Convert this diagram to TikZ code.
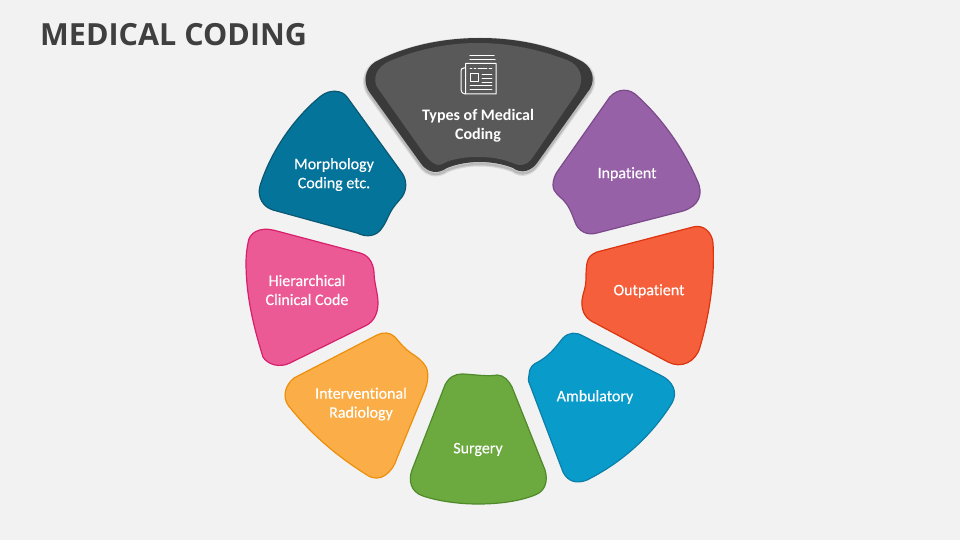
\documentclass[tikz,border=0pt]{standalone}
\usepackage{fontspec}
\setmainfont[Ligatures=CommonOff]{Carlito}
\newfontfamily\titlefont{Open Sans}
\newfontfamily\lblfont[Ligatures=CommonOff,FakeBold=0.25]{Carlito}
\definecolor{bgc}{HTML}{F2F2F2}
\definecolor{titlec}{HTML}{3F3F3F}
\definecolor{darkc}{HTML}{3A3A3A}
\definecolor{midc}{HTML}{595959}
\definecolor{morc}{HTML}{05749B}\definecolor{morl}{HTML}{0A5872}
\definecolor{hierc}{HTML}{EC5A96}\definecolor{hierl}{HTML}{D81F6B}
\definecolor{intc}{HTML}{FBAE47}\definecolor{intl}{HTML}{EE8F0B}
\definecolor{surc}{HTML}{6CA93F}\definecolor{surl}{HTML}{4F8A2B}
\definecolor{ambc}{HTML}{099CCB}\definecolor{ambl}{HTML}{0B7FAA}
\definecolor{outc}{HTML}{F55F3B}\definecolor{outl}{HTML}{DD3410}
\definecolor{inpc}{HTML}{9761A7}\definecolor{inpl}{HTML}{7B4A8A}
\tikzset{
 petal/.style n args={2}{fill=#1,draw=#2,line width=1.2pt,line join=round},
 lbl/.style={text=white,align=center,font=\lblfont\fontsize{16}{19}\selectfont,inner sep=0pt},
 icon/.style={draw=white,line width=1pt,line cap=round,line join=round},
}
\newcommand{\outerpath}{(370,93) .. controls (363,84) and (364,69) .. (375,62) .. controls (405,46) and (442,38) .. (480,38) .. controls (518,38) and (555,46) .. (583,62) .. controls (594,69) and (596,83) .. (587,93) -- (537,163) .. controls (532,170) and (522,175) .. (513,168) .. controls (503,164) and (491,162) .. (480,162) .. controls (468,162) and (457,164) .. (447,168) .. controls (437,175) and (428,172) .. (422,165) -- cycle}
\begin{document}
\begin{tikzpicture}[x=1pt,y=-1pt]
\useasboundingbox (0,0) rectangle (960,540);
\fill[bgc] (0,0) rectangle (960,540);
\node[anchor=west,inner sep=0pt,text=titlec,font=\titlefont\bfseries\fontsize{30.5}{36}\selectfont] (title) at (40,34.800) {MEDICAL CODING};
% Morphology
\draw[petal={morc}{morl}] (260,186) .. controls (271,150) and (296,116) .. (321,96) .. controls (330,89) and (342,90) .. (347,97) -- (402,173) .. controls (407,180) and (407,190) .. (402,197) .. controls (397,203) and (393,207) .. (390,213) .. controls (387,219) and (385,224) .. (382,228) .. controls (377,236) and (367,238) .. (357,233) -- (273,210) .. controls (263,207) and (257,197) .. (260,186) -- cycle;
\node[lbl] (m) at (334,174.500) {Morphology\\Coding etc.};
% Hierarchical
\draw[petal={hierc}{hierl}] (263,357) .. controls (253,325) and (246,295) .. (246,262) .. controls (246,255) and (247,248) .. (248,243) .. controls (249,233) and (259,227) .. (273,230) -- (360,253) .. controls (368,255) and (373,262) .. (374,272) .. controls (374,283) and (378,293) .. (378,303) .. controls (378,313) and (374,321) .. (367,325) -- (290,363) .. controls (280,368) and (268,365) .. (263,357) -- cycle;
\node[lbl] (h) at (307,290) {Hierarchical\\Clinical Code};
% Interventional
\draw[petal={intc}{intl}] (377,335) .. controls (383,332) and (390,332) .. (395,337) .. controls (400,343) and (405,349) .. (411,353) .. controls (417,357) and (423,361) .. (426,367) .. controls (429,373) and (428,382) .. (425,390) -- (397,458) .. controls (393,472) and (380,484) .. (367,475) .. controls (335,455) and (309,432) .. (288,405) .. controls (283,398) and (284,386) .. (294,378) -- cycle;
\node[lbl] (i) at (361,404) {Interventional\\Radiology};
% Surgery
\draw[petal={surc}{surl}] (445,385) .. controls (449,377) and (455,374) .. (462,374) .. controls (470,374) and (488,377) .. (497,375) .. controls (504,375) and (509,381) .. (512,387) -- (545,470) .. controls (548,480) and (546,491) .. (535,495) .. controls (520,501) and (500,504) .. (478,504) .. controls (458,504) and (438,501) .. (423,496) .. controls (411,492) and (408,481) .. (412,470) -- cycle;
\node[lbl] (s) at (478,449.500) {Surgery};
% Ambulatory
\draw[petal={ambc}{ambl}] (563,338) .. controls (569,332) and (576,332) .. (583,336) -- (660,375) .. controls (673,381) and (678,392) .. (672,403) .. controls (652,435) and (623,462) .. (587,480) .. controls (577,484) and (568,482) .. (563,472) -- (530,385) .. controls (528,381) and (528,378) .. (529,375) .. controls (529,368) and (533,364) .. (538,362) .. controls (549,356) and (555,348) .. (563,338) -- cycle;
\node[lbl] (a) at (595,397) {Ambulatory};
% Outpatient
\draw[petal={outc}{outl}] (597,252) -- (693,227) .. controls (703,224) and (712,232) .. (713,243) .. controls (715,280) and (709,316) .. (700,347) .. controls (696,362) and (681,369) .. (668,362) -- (595,323) .. controls (586,319) and (581,312) .. (582,300) .. controls (583,293) and (586,287) .. (586,280) .. controls (586,274) and (586,269) .. (587,263) .. controls (588,257) and (592,254) .. (597,252) -- cycle;
\node[lbl] (o) at (649,291) {Outpatient};
% Inpatient
\draw[petal={inpc}{inpl}] (607,101) .. controls (613,90) and (626,87) .. (635,94) .. controls (660,116) and (682,146) .. (697,180) .. controls (704,194) and (699,206) .. (683,211) -- (597,233) .. controls (587,236) and (578,231) .. (575,222) .. controls (572,214) and (570,208) .. (565,202) .. controls (560,196) and (553,193) .. (553,185) .. controls (553,180) and (555,175) .. (557,172) -- cycle;
\node[lbl] (n) at (627,174) {Inpatient};
% Centre
\draw[black,opacity=.10,line width=5pt,line join=round] [yshift=-2pt] \outerpath;
\draw[black,opacity=.14,line width=2.500pt,line join=round] [yshift=-2pt] \outerpath;
\fill[darkc] \outerpath;
\fill[midc] (377,87) .. controls (373,80) and (375,67) .. (390,61) .. controls (418,49) and (448,43) .. (478,43) .. controls (508,43) and (538,49) .. (567,60) .. controls (578,64) and (586,76) .. (578,91) -- (533,157) .. controls (529,163) and (525,165) .. (520,165) .. controls (515,165) and (512,162) .. (507,161) .. controls (498,158) and (488,157) .. (478,157) .. controls (468,157) and (458,158) .. (449,161) .. controls (445,162) and (442,165) .. (438,165) .. controls (433,164) and (429,160) .. (425,155) -- cycle;
\node[lbl,font=\bfseries\fontsize{16}{19}\selectfont] (t) at (478,125.500) {Types of Medical\\Coding};
% icon
\draw[icon] (465.500,68) -- (464,68) .. controls (462,68) and (461,69) .. (461,71) -- (461,90) .. controls (461,92) and (463,94) .. (465,94) -- (496,94) -- (496,63.500) -- (465.500,63.500) -- (465.500,93.500);
\draw[icon,line width=1.300pt] (470,59.800) -- (495,59.800) (470,55.500) -- (494,55.500);
\draw[icon,line width=.8pt] (470,68.500) -- (472,68.500) (474,68.500) -- (476,68.500) (478,68.500) -- (487,68.500) (489,68.500) -- (492,68.500);
\draw[icon] (470.500,73.500) rectangle (478,81.500);
\draw[icon,line width=.9pt] (482,74) -- (492,74) (482,78) -- (492,78) (482,82) -- (492,82) (470,85.500) -- (492,85.500) (470,89.500) -- (492,89.500);
\end{tikzpicture}
\end{document}
